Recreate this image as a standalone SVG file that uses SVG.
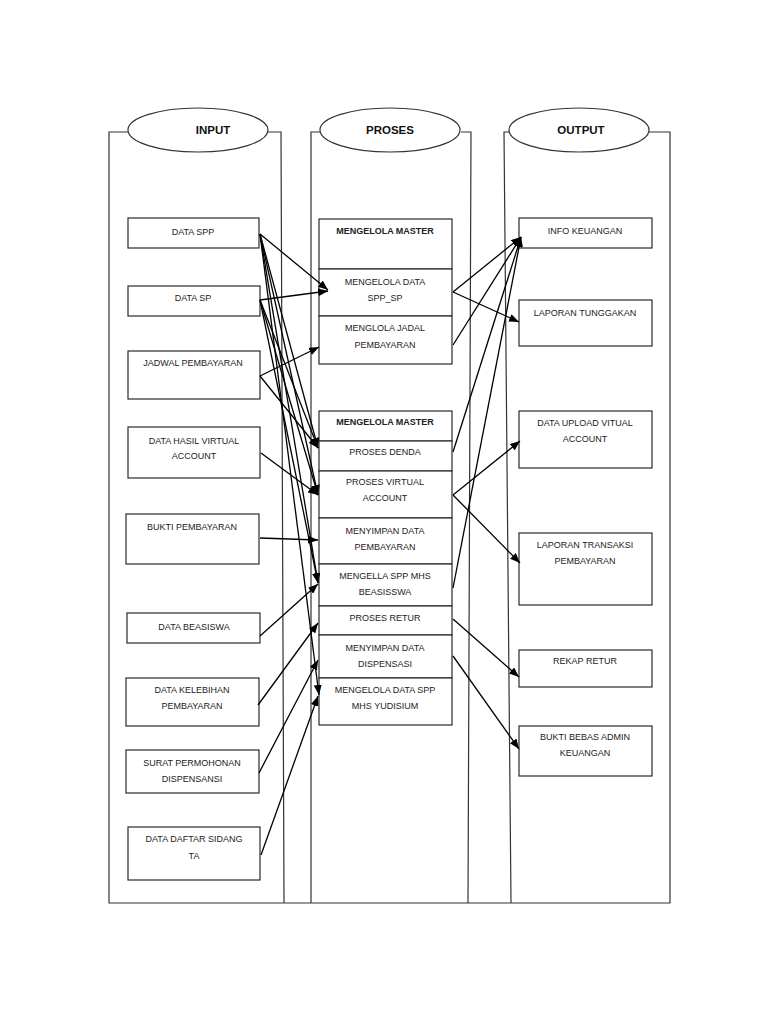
<svg xmlns="http://www.w3.org/2000/svg" width="768" height="1024" viewBox="0 0 768 1024">
<defs>
<style>
.frame{fill:none;stroke:#333;stroke-width:1.2}
.hdr{fill:#fff;stroke:#333;stroke-width:1.2}
.box{fill:#fff;stroke:#2a2a2a;stroke-width:1.2}
.t{font-family:"Liberation Sans",Arial,sans-serif;font-size:9px;fill:#222;text-anchor:middle}
.b{font-weight:bold}
.h{font-family:"Liberation Sans",Arial,sans-serif;font-size:11.5px;font-weight:bold;fill:#111;text-anchor:middle}
.c line{stroke:#000;stroke-width:1.3;marker-end:url(#ah)}
</style>
<marker id="ah" markerUnits="userSpaceOnUse" markerWidth="10" markerHeight="8" refX="10" refY="4" orient="auto">
<path d="M0,0 L10,4 L0,8 z" fill="#000"/>
</marker>
</defs>
<rect width="768" height="1024" fill="#fff"/>
<g id="frames">
<path class="frame" d="M128,132 H109 V903 H670 V132 H649"/>
<path class="frame" d="M268,132 H281 L284,903"/>
<path class="frame" d="M320,132 H311 L311,903"/>
<path class="frame" d="M461,132 H471 L468,903"/>
<path class="frame" d="M509,132 H504 L511,903"/>
</g>
<g id="hdr-input"><ellipse class="hdr" cx="198" cy="130" rx="70" ry="22"/><text class="h" x="213" y="134">INPUT</text></g>
<g id="hdr-proses"><ellipse class="hdr" cx="390" cy="130" rx="70" ry="22"/><text class="h" x="390" y="134">PROSES</text></g>
<g id="hdr-output"><ellipse class="hdr" cx="579" cy="130" rx="70" ry="22"/><text class="h" x="581" y="134">OUTPUT</text></g>

<g id="in-dataspp"><rect class="box" x="128" y="218" width="131" height="30"/><text class="t" x="193" y="235">DATA SPP</text></g>
<g id="in-datasp"><rect class="box" x="128" y="286" width="132" height="30"/><text class="t" x="193" y="301">DATA SP</text></g>
<g id="in-jadwal"><rect class="box" x="128" y="351" width="132" height="48"/><text class="t" x="193" y="366">JADWAL PEMBAYARAN</text></g>
<g id="in-hasilva"><rect class="box" x="128" y="427" width="132" height="51"/><text class="t" x="194" y="444">DATA HASIL VIRTUAL</text><text class="t" x="194" y="459">ACCOUNT</text></g>
<g id="in-bukti"><rect class="box" x="126" y="514" width="133" height="50"/><text class="t" x="192" y="530">BUKTI PEMBAYARAN</text></g>
<g id="in-beasiswa"><rect class="box" x="127" y="613" width="133" height="30"/><text class="t" x="194" y="630">DATA BEASISWA</text></g>
<g id="in-kelebihan"><rect class="box" x="126" y="678" width="133" height="48"/><text class="t" x="192" y="693">DATA KELEBIHAN</text><text class="t" x="192" y="709">PEMBAYARAN</text></g>
<g id="in-surat"><rect class="box" x="126" y="750" width="133" height="43"/><text class="t" x="192" y="766">SURAT PERMOHONAN</text><text class="t" x="192" y="782">DISPENSANSI</text></g>
<g id="in-sidang"><rect class="box" x="128" y="827" width="132" height="53"/><text class="t" x="194" y="842">DATA DAFTAR SIDANG</text><text class="t" x="194" y="859">TA</text></g>

<g id="p-master1"><rect class="box" x="319" y="219" width="133" height="50"/><text class="t b" x="385" y="234">MENGELOLA MASTER</text></g>
<g id="p-sppsp"><rect class="box" x="319" y="269" width="133" height="47"/><text class="t" x="385" y="285">MENGELOLA DATA</text><text class="t" x="385" y="301">SPP_SP</text></g>
<g id="p-jadal"><rect class="box" x="319" y="316" width="133" height="48"/><text class="t" x="385" y="331">MENGLOLA JADAL</text><text class="t" x="385" y="348">PEMBAYARAN</text></g>
<g id="p-master2"><rect class="box" x="319" y="411" width="133" height="30"/><text class="t b" x="385" y="425">MENGELOLA MASTER</text></g>
<g id="p-denda"><rect class="box" x="319" y="441" width="133" height="30"/><text class="t" x="385" y="455">PROSES DENDA</text></g>
<g id="p-va"><rect class="box" x="319" y="471" width="133" height="47"/><text class="t" x="385" y="485">PROSES VIRTUAL</text><text class="t" x="385" y="501">ACCOUNT</text></g>
<g id="p-simpanbayar"><rect class="box" x="319" y="518" width="133" height="46"/><text class="t" x="385" y="534">MENYIMPAN DATA</text><text class="t" x="385" y="550">PEMBAYARAN</text></g>
<g id="p-beasiswa"><rect class="box" x="319" y="564" width="133" height="42"/><text class="t" x="385" y="579">MENGELLA SPP MHS</text><text class="t" x="385" y="595">BEASISSWA</text></g>
<g id="p-retur"><rect class="box" x="319" y="606" width="133" height="29"/><text class="t" x="385" y="621">PROSES RETUR</text></g>
<g id="p-dispensasi"><rect class="box" x="319" y="635" width="133" height="43"/><text class="t" x="385" y="651">MENYIMPAN DATA</text><text class="t" x="385" y="667">DISPENSASI</text></g>
<g id="p-yudisium"><rect class="box" x="319" y="678" width="133" height="47"/><text class="t" x="385" y="693">MENGELOLA DATA SPP</text><text class="t" x="385" y="709">MHS YUDISIUM</text></g>

<g id="o-info"><rect class="box" x="519" y="218" width="133" height="30"/><text class="t" x="585" y="234">INFO KEUANGAN</text></g>
<g id="o-tunggakan"><rect class="box" x="519" y="300" width="133" height="46"/><text class="t" x="585" y="316">LAPORAN TUNGGAKAN</text></g>
<g id="o-upload"><rect class="box" x="519" y="411" width="133" height="57"/><text class="t" x="585" y="426">DATA UPLOAD VITUAL</text><text class="t" x="585" y="442">ACCOUNT</text></g>
<g id="o-transaksi"><rect class="box" x="519" y="533" width="133" height="72"/><text class="t" x="585" y="548">LAPORAN TRANSAKSI</text><text class="t" x="585" y="564">PEMBAYARAN</text></g>
<g id="o-rekap"><rect class="box" x="519" y="650" width="133" height="37"/><text class="t" x="585" y="664">REKAP RETUR</text></g>
<g id="o-bebas"><rect class="box" x="519" y="726" width="133" height="50"/><text class="t" x="585" y="740">BUKTI BEBAS ADMIN</text><text class="t" x="585" y="756">KEUANGAN</text></g>

<g id="connectors" class="c">
<line x1="260" y1="234" x2="328" y2="290"/>
<line x1="260" y1="234" x2="318" y2="448"/>
<line x1="260" y1="234" x2="318" y2="495"/>
<line x1="260" y1="234" x2="318" y2="583"/>
<line x1="260" y1="234" x2="319" y2="695"/>
<line x1="260" y1="300" x2="328" y2="291"/>
<line x1="260" y1="300" x2="318" y2="448"/>
<line x1="260" y1="300" x2="318" y2="495"/>
<line x1="260" y1="300" x2="318" y2="583"/>
<line x1="260" y1="376" x2="319" y2="347"/>
<line x1="260" y1="376" x2="318" y2="448"/>
<line x1="261" y1="453" x2="318" y2="495"/>
<line x1="260" y1="538" x2="318" y2="540"/>
<line x1="260" y1="636" x2="318" y2="584"/>
<line x1="258" y1="705" x2="318" y2="623"/>
<line x1="259" y1="773" x2="318" y2="660"/>
<line x1="261" y1="855" x2="318" y2="696"/>
<line x1="453" y1="292" x2="521" y2="237"/>
<line x1="453" y1="292" x2="519" y2="322"/>
<line x1="453" y1="345" x2="521" y2="237"/>
<line x1="453" y1="452" x2="521" y2="237"/>
<line x1="453" y1="588" x2="521" y2="237"/>
<line x1="453" y1="495" x2="520" y2="441"/>
<line x1="453" y1="495" x2="520" y2="563"/>
<line x1="453" y1="619" x2="519" y2="677"/>
<line x1="453" y1="656" x2="519" y2="749"/>
</g>
</svg>
